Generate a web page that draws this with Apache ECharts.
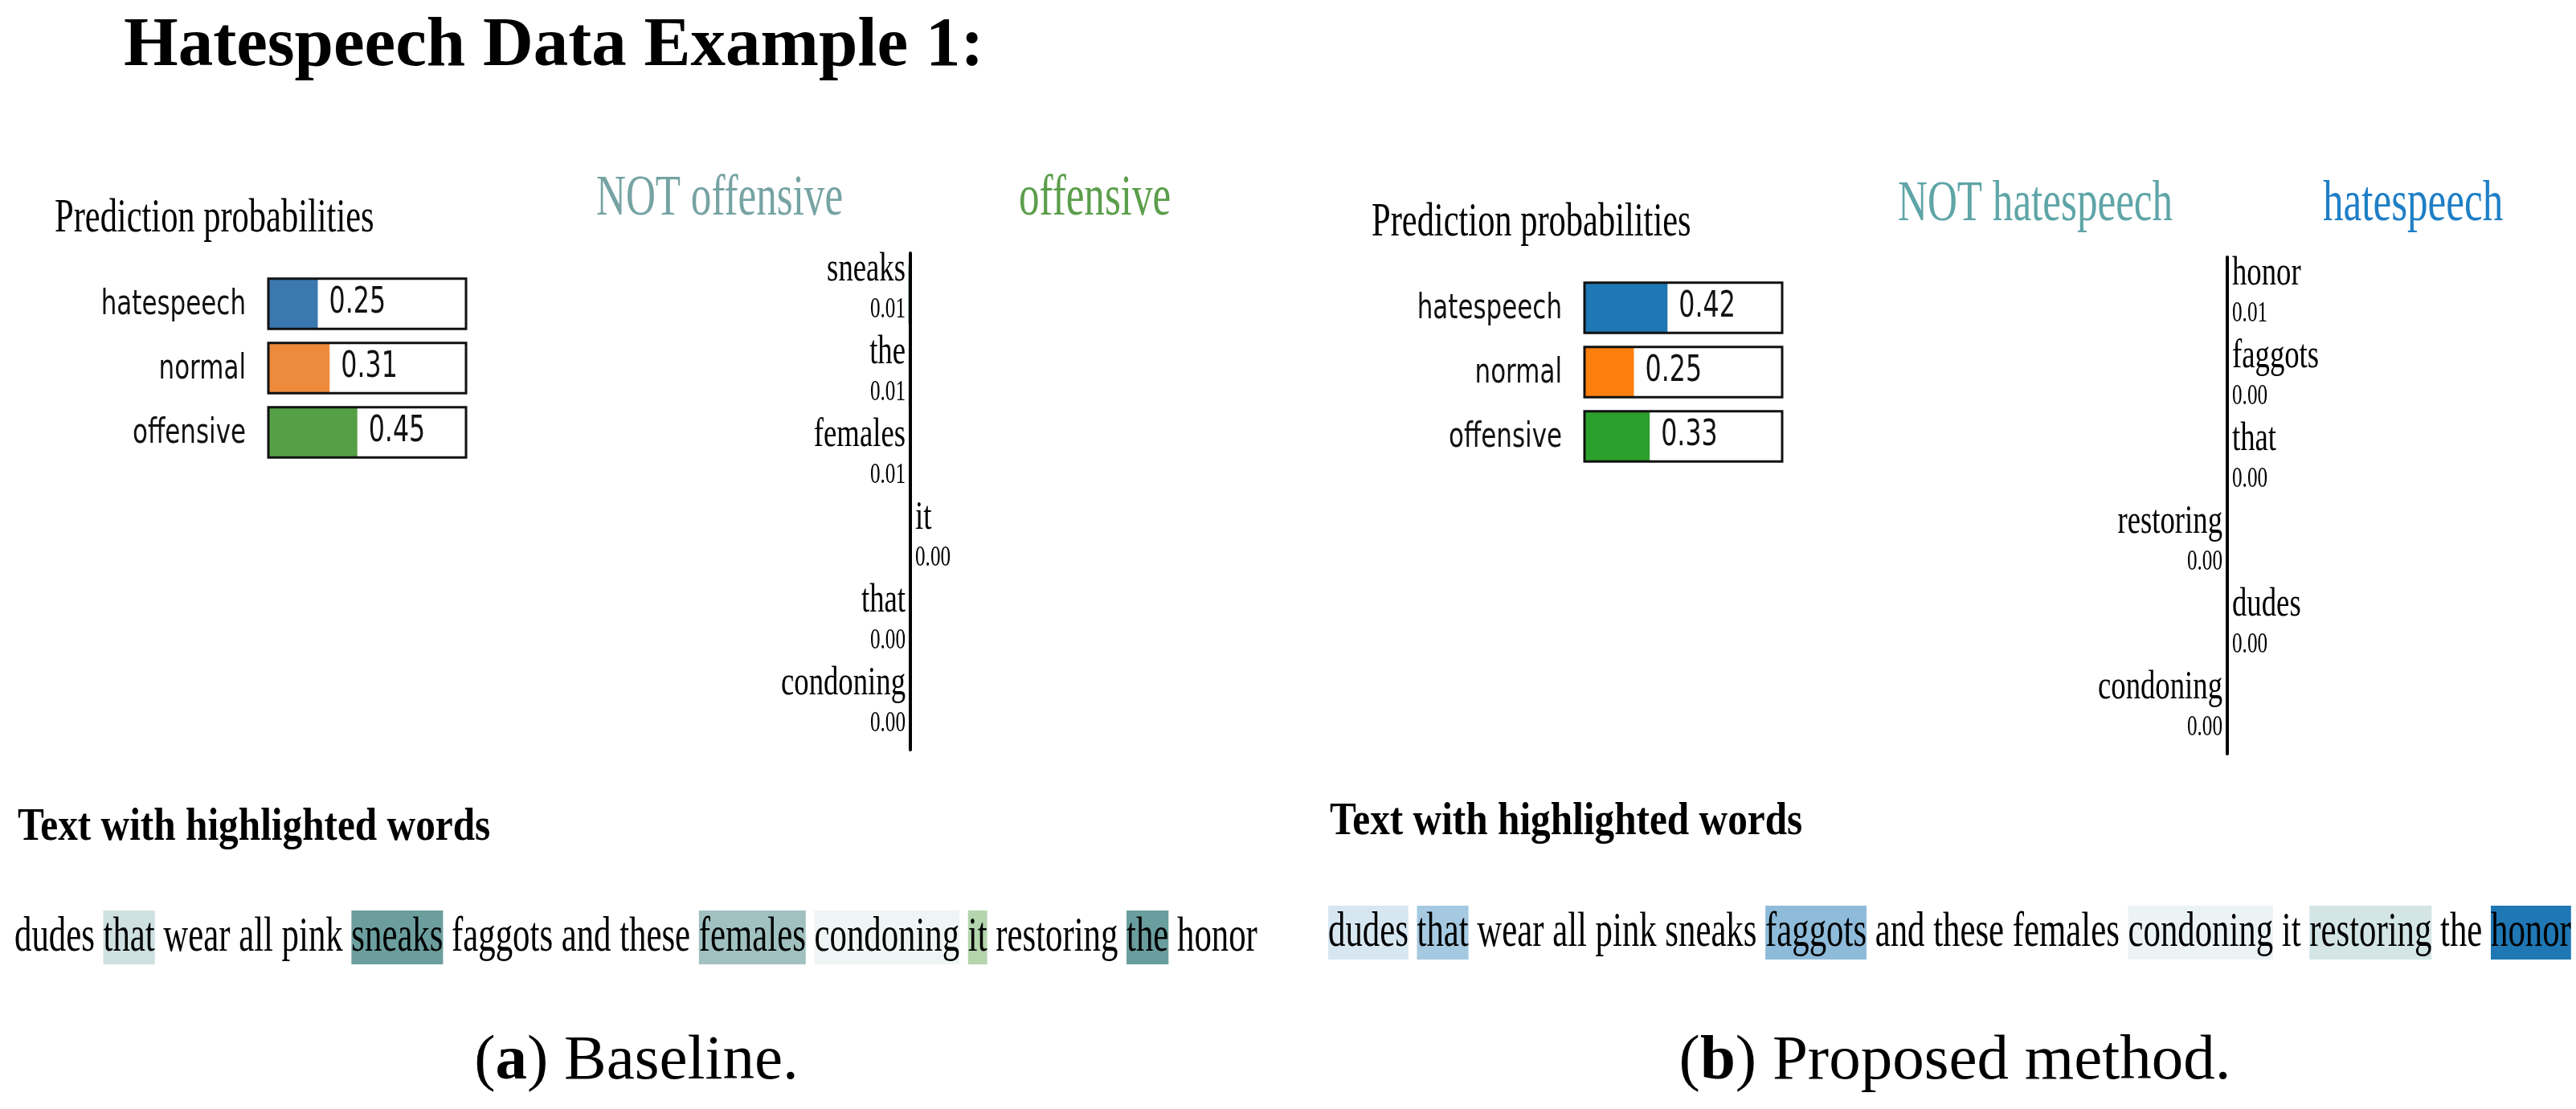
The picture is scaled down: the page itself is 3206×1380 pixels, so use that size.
<!DOCTYPE html>
<html>
<head>
<meta charset="utf-8">
<title>Hatespeech Data Example 1</title>
<script src="https://cdn.jsdelivr.net/npm/echarts@6/dist/echarts.min.js"></script>
<style>
  html, body { margin: 0; padding: 0; background: #fff; overflow: hidden; }
  #chart { width: 3206px; height: 1380px; }
</style>
</head>
<body>
<div id="chart"></div>
<script>
// class probabilities (a = baseline, b = proposed)
const classNames = ['hatespeech', 'normal', 'offensive'];
const probsBaseline = [0.25, 0.31, 0.45];
const probsProposed = [0.42, 0.25, 0.33];

// top LIME features, negative = NOT side of the axis
const wordsBaseline = ['sneaks', 'the', 'females', 'it', 'that', 'condoning'];
const weightsBaseline = [-0.0084, -0.0072, -0.0061, 0.0032, -0.0027, -0.0012];
const wordsProposed = ['honor', 'faggots', 'that', 'restoring', 'dudes', 'condoning'];
const weightsProposed = [0.0068, 0.0046, 0.0040, -0.0031, 0.0022, -0.0013];

// the example sentence and how strongly each word is highlighted
const sentence = ['dudes', 'that', 'wear', 'all', 'pink', 'sneaks', 'faggots', 'and',
  'these', 'females', 'condoning', 'it', 'restoring', 'the', 'honor'];
const highlightBaseline = [0, -0.3, 0, 0, 0, -0.92, 0, 0, 0, -0.59, -0.1, 0.45, 0, -0.93, 0];
const highlightProposed = [0.18, 0.4, 0, 0, 0, 0, 0.5, 0, 0, 0, -0.12, 0, -0.27, 0, 1];

const SERIF = 'Liberation Serif';
const SANS = 'DejaVu Sans';
const SQUEEZE = 0.72; // the LIME screenshots are squeezed horizontally

const panels = [
  {
    target: 'offensive', probs: probsBaseline, words: wordsBaseline, weights: weightsBaseline,
    highlight: highlightBaseline,
    bars: ['#3b78b0', '#ee8a3b', '#55a046'], neg: [95, 150, 150], pos: [85, 160, 70],
    negTitle: '#76a3a3', posTitle: '#5b9e4b',
    probTitle: [68, 293], probGrid: { left: 334, top: 338 },
    featGrid: { left: 833, top: 315 }, negTitleAt: [742, 273], posTitleAt: [1268, 273],
    header: [22, 1050], text: [18, 1133],
    caption: { x: 792, text: '({b|a}) Baseline.' }
  },
  {
    target: 'hatespeech', probs: probsProposed, words: wordsProposed, weights: weightsProposed,
    highlight: highlightProposed,
    bars: ['#1f77b4', '#ff7f0e', '#2ca02c'], neg: [95, 158, 160], pos: [31, 119, 180],
    negTitle: '#5fa5a7', posTitle: '#1f7fc6',
    probTitle: [1707, 298], probGrid: { left: 1972, top: 343 },
    featGrid: { left: 2472, top: 320 }, negTitleAt: [2362, 280], posTitleAt: [2891, 280],
    header: [1655, 1043], text: [1653, 1127],
    caption: { x: 2433, text: '({b|b}) Proposed method.' }
  }
];

function tint(rgb, a) {
  const c = rgb.map(v => Math.round(255 - (255 - v) * a));
  return `rgb(${c[0]},${c[1]},${c[2]})`;
}

// middle of a line of text whose baseline sits at b
function mid(b, size) {
  return b - size * 0.34;
}

const chart = echarts.init(document.getElementById('chart'));

const grids = [], xAxes = [], yAxes = [], series = [];
const graphic = [];

graphic.push({
  type: 'text', x: 154, y: mid(88, 87),
  style: { text: 'Hatespeech Data Example 1:', fontFamily: SERIF, fontWeight: 'bold', fontSize: 87, fill: '#000', verticalAlign: 'middle' }
});

panels.forEach((p, k) => {
  const gp = grids.length;
  grids.push({ left: p.probGrid.left, top: p.probGrid.top, width: 246, height: 240 });
  xAxes.push({ gridIndex: gp, type: 'value', min: 0, max: 1, show: false });
  yAxes.push({ gridIndex: gp, type: 'category', data: classNames, inverse: true, show: false });

  series.push({
    type: 'custom',
    name: 'probabilities ' + k,
    xAxisIndex: gp, yAxisIndex: gp,
    data: p.probs.map((v, i) => [v, i]),
    encode: { x: 0, y: 1 },
    renderItem(params, api) {
      const v = api.value(0), i = api.value(1);
      const o = api.coord([0, i]), full = api.coord([1, i]), tip = api.coord([v, i]);
      const h = api.size([0, 1])[1] * 0.78;
      const top = o[1] - h / 2;
      return {
        type: 'group',
        children: [
          { type: 'rect', shape: { x: o[0], y: top, width: tip[0] - o[0], height: h }, style: { fill: p.bars[i] } },
          { type: 'rect', shape: { x: o[0], y: top, width: full[0] - o[0], height: h }, style: { fill: 'none', stroke: '#111', lineWidth: 3 } },
          {
            type: 'text', x: tip[0] + 14, y: o[1], scaleX: SQUEEZE,
            style: { text: v.toFixed(2), fontFamily: SANS, fontSize: 44, fill: '#111', verticalAlign: 'middle' }
          },
          {
            type: 'text', x: o[0] - 28, y: o[1] + 2, scaleX: SQUEEZE,
            style: { text: classNames[i], fontFamily: SANS, fontSize: 43, fill: '#111', align: 'right', verticalAlign: 'middle' }
          }
        ]
      };
    }
  });

  const gf = grids.length;
  grids.push({ left: p.featGrid.left, top: p.featGrid.top, width: 600, height: 618 });
  xAxes.push({ gridIndex: gf, type: 'value', min: -1, max: 1, show: false });
  yAxes.push({
    gridIndex: gf, type: 'category', data: p.words, inverse: true, z: 10,
    axisLine: { onZero: true, lineStyle: { color: '#000', width: 4 } },
    axisTick: { show: false }, axisLabel: { show: false }, splitLine: { show: false }
  });

  series.push({
    type: 'custom',
    name: 'features ' + k,
    xAxisIndex: gf, yAxisIndex: gf,
    data: p.weights.map((w, i) => [w, i]),
    encode: { x: 0, y: 1 },
    renderItem(params, api) {
      const w = api.value(0), i = api.value(1);
      const zero = api.coord([0, i]), end = api.coord([w, i]);
      const band = api.size([0, 1])[1];
      const neg = w < 0;
      const lx = zero[0] + (neg ? -6 : 6);
      const align = neg ? 'right' : 'left';
      return {
        type: 'group',
        children: [
          {
            type: 'rect',
            shape: { x: Math.min(zero[0], end[0]), y: zero[1] - band * 0.35, width: Math.abs(end[0] - zero[0]), height: band * 0.7 },
            style: { fill: tint(neg ? p.neg : p.pos, 1) }
          },
          {
            type: 'text', x: lx, y: zero[1] - 14 - 51 * 0.34, scaleX: SQUEEZE,
            style: { text: p.words[i], fontFamily: SERIF, fontSize: 51, fill: '#000', align, verticalAlign: 'middle' }
          },
          {
            type: 'text', x: lx, y: zero[1] + 31 - 35 * 0.34, scaleX: SQUEEZE,
            style: { text: Math.abs(w).toFixed(2), fontFamily: SERIF, fontSize: 35, fill: '#000', align, verticalAlign: 'middle' }
          }
        ]
      };
    }
  });

  // panel texts
  graphic.push({
    type: 'text', x: p.probTitle[0], y: mid(p.probTitle[1], 59), scaleX: SQUEEZE,
    style: { text: 'Prediction probabilities', fontFamily: SERIF, fontSize: 59, fill: '#000', verticalAlign: 'middle' }
  });
  graphic.push({
    type: 'text', x: p.negTitleAt[0], y: mid(p.negTitleAt[1], 72), scaleX: 0.71,
    style: { text: 'NOT ' + p.target, fontFamily: SERIF, fontSize: 72, fill: p.negTitle, verticalAlign: 'middle' }
  });
  graphic.push({
    type: 'text', x: p.posTitleAt[0], y: mid(p.posTitleAt[1], 72), scaleX: 0.71,
    style: { text: p.target, fontFamily: SERIF, fontSize: 72, fill: p.posTitle, verticalAlign: 'middle' }
  });
  graphic.push({
    type: 'text', x: p.header[0], y: mid(p.header[1], 56), scaleX: 0.88,
    style: { text: 'Text with highlighted words', fontFamily: SERIF, fontWeight: 'bold', fontSize: 56, fill: '#000', verticalAlign: 'middle' }
  });

  const rich = {};
  const line = sentence.map((word, i) => {
    const h = p.highlight[i];
    if (!h) return word;
    rich['w' + i] = { backgroundColor: tint(h > 0 ? p.pos : p.neg, Math.abs(h)), height: 67 };
    return `{w${i}|${word}}`;
  }).join(' ');
  graphic.push({
    type: 'text', x: p.text[0], y: p.text[1], scaleX: 0.69,
    style: { text: line, rich, fontFamily: SERIF, fontSize: 62, lineHeight: 67, fill: '#000', verticalAlign: 'top' }
  });

  graphic.push({
    type: 'text', x: p.caption.x, y: mid(1348, 79),
    style: {
      text: p.caption.text, fontFamily: SERIF, fontSize: 79, fill: '#000', align: 'center', verticalAlign: 'middle',
      rich: { b: { fontFamily: SERIF, fontSize: 79, fontWeight: 'bold', fill: '#000' } }
    }
  });
});

chart.setOption({
  animation: false,
  backgroundColor: '#fff',
  grid: grids,
  xAxis: xAxes,
  yAxis: yAxes,
  series,
  graphic
});
</script>
</body>
</html>
